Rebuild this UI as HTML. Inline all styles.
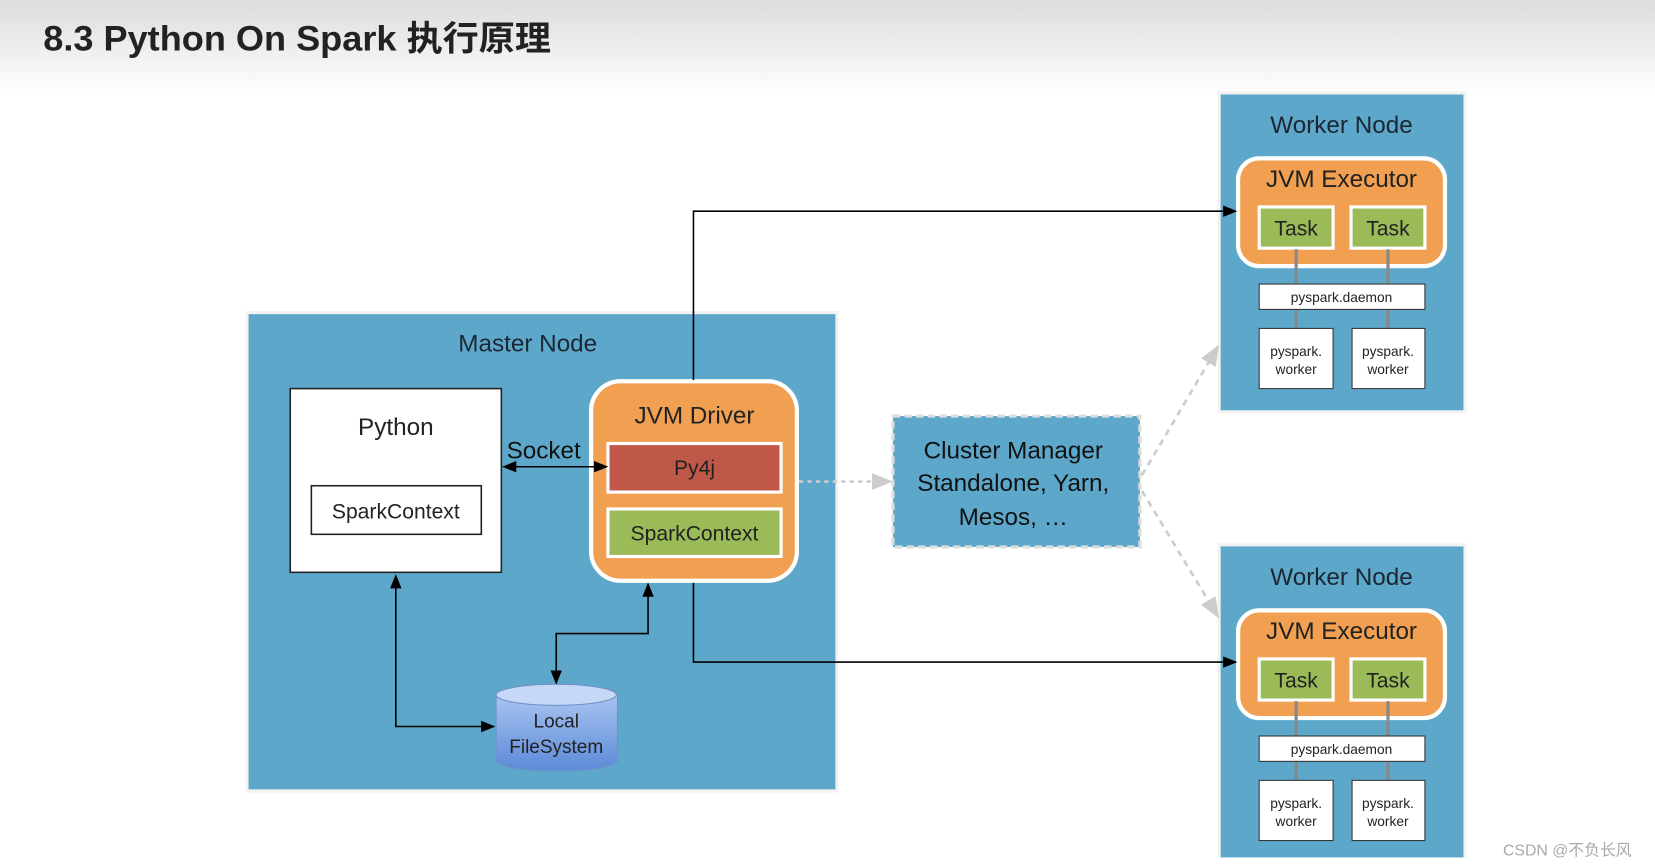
<!DOCTYPE html>
<html><head><meta charset="utf-8"><style>
html,body{margin:0;padding:0;background:#fff;width:1655px;height:868px;overflow:hidden}
svg{display:block}
text{font-family:"Liberation Sans","Noto Sans CJK SC",sans-serif}
</style></head><body>
<svg width="1655" height="868" viewBox="0 0 1568 822" preserveAspectRatio="none" xmlns="http://www.w3.org/2000/svg">
<defs>
<linearGradient id="hd" x1="0" y1="0" x2="0" y2="1"><stop offset="0" stop-color="#dcdcdc"/><stop offset="1" stop-color="#ffffff"/></linearGradient>
<linearGradient id="cyl" x1="0" y1="0" x2="0" y2="1"><stop offset="0" stop-color="#a9c4f0"/><stop offset="1" stop-color="#5b8ad8"/></linearGradient>
<marker id="a" viewBox="0 0 10 10" refX="9" refY="5" markerWidth="9" markerHeight="9" orient="auto-start-reverse"><path d="M0,1 L10,5 L0,9 z" fill="#000"/></marker>
<marker id="g" viewBox="0 0 10 10" refX="9" refY="5" markerWidth="8" markerHeight="8" orient="auto-start-reverse"><path d="M0,1 L10,5 L0,9 z" fill="#ccc"/></marker>
</defs>
<rect x="0" y="0" width="1568" height="90" fill="url(#hd)"/>
<text x="41" y="48" font-size="33" font-weight="bold" fill="#222" textLength="481" lengthAdjust="spacingAndGlyphs">8.3 Python On Spark 执行原理</text>

<!-- Master node -->
<rect x="234" y="296" width="559" height="453" fill="#5da8ca" stroke="#f2f2f2" stroke-width="3"/>
<text x="500" y="333" font-size="23" text-anchor="middle" fill="#1c2733">Master Node</text>
<rect x="275" y="368" width="200" height="174" fill="#fff" stroke="#222" stroke-width="1.5"/>
<text x="375" y="412" font-size="23" text-anchor="middle" fill="#222">Python</text>
<rect x="295" y="460" width="161" height="46" fill="#fff" stroke="#222" stroke-width="1.5"/>
<text x="375" y="491" font-size="20" text-anchor="middle" fill="#222">SparkContext</text>

<rect x="560" y="361" width="195" height="189" rx="28" fill="#f0a050" stroke="#fff" stroke-width="4"/>
<text x="658" y="401" font-size="23" text-anchor="middle" fill="#222">JVM Driver</text>
<rect x="576" y="420" width="164" height="46" fill="#c0584a" stroke="#fff" stroke-width="3"/>
<text x="658" y="450" font-size="20" text-anchor="middle" fill="#222">Py4j</text>
<rect x="576" y="482" width="164" height="45" fill="#9bbb59" stroke="#fff" stroke-width="3"/>
<text x="658" y="512" font-size="20" text-anchor="middle" fill="#222">SparkContext</text>

<text x="480" y="434" font-size="23" fill="#111">Socket</text>
<line x1="477" y1="442" x2="575" y2="442" stroke="#000" stroke-width="1.5" marker-start="url(#a)" marker-end="url(#a)"/>

<!-- cylinder -->
<path d="M470,658 L470,720 A57,10 0 0 0 585,720 L585,658 Z" fill="url(#cyl)" stroke="#6f8fc8"/>
<ellipse cx="527" cy="658" rx="57" ry="10" fill="#c6d8f5" stroke="#6f8fc8"/>
<text x="527" y="689" font-size="18" text-anchor="middle" fill="#222">Local</text>
<text x="527" y="713" font-size="18" text-anchor="middle" fill="#222">FileSystem</text>

<polyline points="375,545 375,688 468,688" fill="none" stroke="#000" stroke-width="1.5" marker-start="url(#a)" marker-end="url(#a)"/>
<polyline points="527,647 527,600 614,600 614,553" fill="none" stroke="#000" stroke-width="1.5" marker-start="url(#a)" marker-end="url(#a)"/>

<!-- cluster manager -->
<line x1="757" y1="456" x2="844" y2="456" stroke="#ccc" stroke-width="2.5" stroke-dasharray="4,4" marker-end="url(#g)"/>
<rect x="846" y="394" width="234" height="124" fill="#5da8ca" stroke="#ddd" stroke-width="3" stroke-dasharray="7,4"/>
<text x="960" y="434" font-size="23" text-anchor="middle" fill="#111">Cluster Manager</text>
<text x="960" y="465" font-size="23" text-anchor="middle" fill="#111">Standalone, Yarn,</text>
<text x="960" y="497" font-size="23" text-anchor="middle" fill="#111">Mesos, …</text>

<!-- worker nodes -->
<g id="w">
<rect x="1155" y="88" width="233" height="302" fill="#5da8ca" stroke="#f2f2f2" stroke-width="3"/>
<text x="1271" y="126" font-size="23" text-anchor="middle" fill="#1c2733">Worker Node</text>
<rect x="1173" y="150" width="196" height="102" rx="20" fill="#f0a050" stroke="#fff" stroke-width="4"/>
<text x="1271" y="177" font-size="23" text-anchor="middle" fill="#222">JVM Executor</text>
<rect x="1193" y="196" width="70" height="39" fill="#9bbb59" stroke="#fff" stroke-width="3"/>
<rect x="1280" y="196" width="70" height="39" fill="#9bbb59" stroke="#fff" stroke-width="3"/>
<text x="1228" y="223" font-size="20" text-anchor="middle" fill="#222">Task</text>
<text x="1315" y="223" font-size="20" text-anchor="middle" fill="#222">Task</text>
<line x1="1228" y1="236" x2="1228" y2="311" stroke="#888" stroke-width="3"/>
<line x1="1315" y1="236" x2="1315" y2="311" stroke="#888" stroke-width="3"/>
<rect x="1193" y="269" width="157" height="24" fill="#fff" stroke="#333" stroke-width="1"/>
<text x="1271" y="286" font-size="13" text-anchor="middle" fill="#222">pyspark.daemon</text>
<rect x="1193" y="311" width="70" height="57" fill="#fff" stroke="#333" stroke-width="1"/>
<rect x="1281" y="311" width="69" height="57" fill="#fff" stroke="#333" stroke-width="1"/>
<text x="1228" y="337" font-size="13" text-anchor="middle" fill="#222">pyspark.</text>
<text x="1228" y="354" font-size="13" text-anchor="middle" fill="#222">worker</text>
<text x="1315" y="337" font-size="13" text-anchor="middle" fill="#222">pyspark.</text>
<text x="1315" y="354" font-size="13" text-anchor="middle" fill="#222">worker</text>
</g>
<use href="#w" transform="translate(0,428)"/>

<polyline points="657,360 657,200 1171,200" fill="none" stroke="#000" stroke-width="1.5" marker-end="url(#a)"/>
<polyline points="657,552 657,627 1171,627" fill="none" stroke="#000" stroke-width="1.5" marker-end="url(#a)"/>
<line x1="1082" y1="450" x2="1154" y2="328" stroke="#ccc" stroke-width="2.5" stroke-dasharray="6,5" marker-end="url(#g)"/>
<line x1="1082" y1="465" x2="1154" y2="584" stroke="#ccc" stroke-width="2.5" stroke-dasharray="6,5" marker-end="url(#g)"/>

<rect x="1140" y="812" width="260" height="10" fill="#fff"/>
<text x="1424" y="810" font-size="15" fill="#aaa">CSDN @不负长风</text>
</svg>
</body></html>
